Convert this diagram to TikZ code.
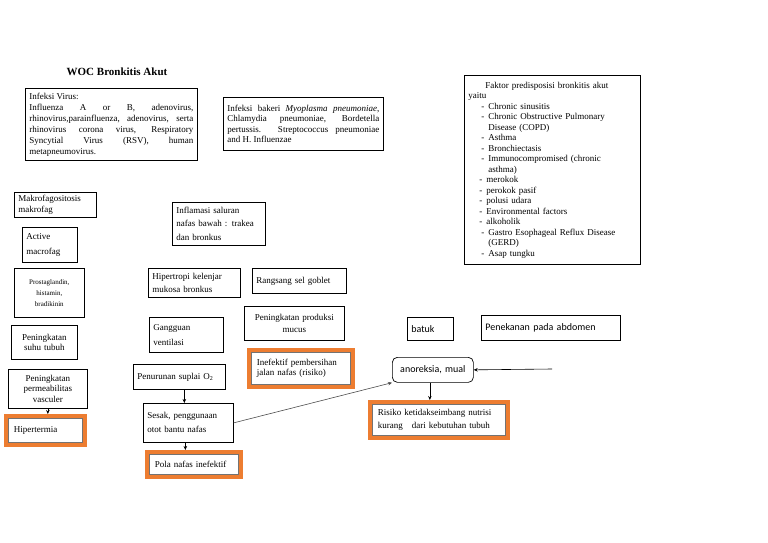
\documentclass[tikz,border=0pt]{standalone}
\usepackage{fontspec}
\setmainfont{Liberation Serif}
\newfontfamily\calibri{Carlito}
\usepackage{xcolor}
\usepackage{tikz}
\usetikzlibrary{arrows.meta, positioning}
\definecolor{wordorange}{RGB}{237,125,49}
\newcommand{\faktoritem}[2][13pt]{\hspace*{#1}-\hspace*{4pt}#2}

\begin{document}
\begin{tikzpicture}[x=1pt, y=-1pt,
        box/.style={rectangle, draw, line width=0.7pt, anchor=north west, inner sep=4pt, align=left, font=\fontsize{9}{10.5}\selectfont},
        diag/.style={box, draw=wordorange, line width=3.8pt, inner xsep=8pt,
            path picture={\draw[black!55, line width=0.5pt] ([shift={(2.7pt,2.7pt)}]path picture bounding box.south west) rectangle ([shift={(-2.7pt,-2.7pt)}]path picture bounding box.north east);}},
        sans/.style={box, font=\calibri\fontsize{10}{12}\selectfont},
        arrow/.style={-{Stealth[length=4pt, width=3.5pt]}, line width=0.6pt}
    ]
        \useasboundingbox (0,0) rectangle (768,543);

        \node[font=\bfseries\fontsize{11}{13}\selectfont] (title) at (117,72) {WOC Bronkitis Akut};

        % causes
        \node[box, align=justify, inner ysep=3pt, font=\fontsize{9}{11}\selectfont, text width=164, minimum height=72] (virus) at (25,88) {Infeksi Virus:\\
            Influenza A or B, adenovirus,\linebreak rhinovirus,parainfluenza, adenovirus, serta\linebreak rhinovirus corona virus, Respiratory\linebreak Syncytial Virus (RSV), human\linebreak metapneumovirus.};
        \node[box, align=justify, text width=152, minimum height=53] (bakteri) at (223,97) {Infeksi bakeri \textit{Myoplasma pneumoniae},\linebreak Chlamydia pneumoniae, Bordetella\linebreak pertussis. Streptococcus pneumoniae\linebreak and H. Influenzae};
        \node[box, text width=168, minimum height=189] (faktor) at (464,75) {\hspace*{17pt}Faktor predisposisi bronkitis akut\\
            yaitu\\
            \faktoritem{Chronic sinusitis}\\
            \faktoritem{Chronic Obstructive Pulmonary}\\
            \hspace*{20pt}Disease (COPD)\\
            \faktoritem{Asthma}\\
            \faktoritem{Bronchiectasis}\\
            \faktoritem{Immunocompromised (chronic}\\
            \hspace*{20pt}asthma)\\
            \faktoritem[11pt]{merokok}\\
            \faktoritem[11pt]{perokok pasif}\\
            \faktoritem[11pt]{polusi udara}\\
            \faktoritem[11pt]{Environmental factors}\\
            \faktoritem[11pt]{alkoholik}\\
            \faktoritem{Gastro Esophageal Reflux Disease}\\
            \hspace*{20pt}(GERD)\\
            \faktoritem{Asap tungku}};

        % left column
        \node[box, inner ysep=2pt, text width=74, minimum height=25] (makro) at (14,192) {Makrofagositosis\\ makrofag};
        \node[box, font=\fontsize{9}{15}\selectfont, text width=47, minimum height=35] (active) at (22,227) {Active\\ macrofag};
        \node[box, align=center, font=\fontsize{7}{11}\selectfont, text width=62, minimum height=49] (prosta) at (14,268) {Prostaglandin,\\ histamin,\\ bradikinin};
        \node[box, align=center, text width=58, minimum height=34] (suhu) at (11,325) {Peningkatan\\ suhu tubuh};
        \node[box, align=center, text width=71, minimum height=39] (perm) at (8,369) {Peningkatan\\ permeabilitas\\ vasculer};
        \node[diag, text width=63.2, minimum height=29.2] (hiper) at (4,414) {Hipertermia};

        % middle column
        \node[box, font=\fontsize{9}{13.5}\selectfont, text width=85, minimum height=43] (inflam) at (172,202) {Inflamasi saluran\\ nafas bawah : trakea\\ dan bronkus};
        \node[box, font=\fontsize{9}{13}\selectfont, text width=84, minimum height=29] (hipertropi) at (148,268) {Hipertropi kelenjar\\ mukosa bronkus};
        \node[box, text width=86, minimum height=25] (rangsang) at (252,268) {Rangsang sel goblet};
        \node[box, font=\fontsize{9}{15}\selectfont, text width=66, minimum height=35] (gangguan) at (149,317) {Gangguan\\ ventilasi};
        \node[box, align=center, font=\fontsize{9}{12}\selectfont, text width=92, minimum height=34] (produksi) at (244,306) {Peningkatan produksi\\ mucus};
        \node[diag, text width=88.2, minimum height=37.2] (inefektif) at (247,348) {Inefektif pembersihan\\ jalan nafas (risiko)};
        \node[box, text width=84, minimum height=25] (penurunan) at (133,364) {Penurunan suplai O\textsubscript{2}};
        \node[box, font=\fontsize{9}{14}\selectfont, text width=82, minimum height=39] (sesak) at (143,403) {Sesak, penggunaan\\ otot bantu nafas};
        \node[diag, text width=78.2, minimum height=25.2] (pola) at (145,450) {Pola nafas inefektif};

        % right part
        \node[sans, text width=38, minimum height=23] (batuk) at (407,317) {batuk};
        \node[sans, text width=131, minimum height=25] (penekanan) at (481,315) {Penekanan pada abdomen};
        \node[sans, rounded corners=5pt, align=center, text width=73, minimum height=25] (anoreksia) at (392,357) {anoreksia, mual};
        \node[diag, font=\fontsize{9}{13}\selectfont, text width=122.2, minimum height=36.2] (risiko) at (368,400) {Risiko ketidakseimbang nutrisi\\ kurang \ \ dari kebutuhan tubuh};
        \coordinate (tekanan) at (552,369);

        \draw[arrow] (perm.south) -- (perm.south |- hiper.north);
        \draw[arrow] ([xshift=5pt]penurunan.south) -- ([xshift=5pt]penurunan.south |- sesak.north);
        \draw[arrow] ([xshift=-3pt]sesak.south) -- ([xshift=-3pt]sesak.south |- pola.north);
        \draw[arrow, black!70] (sesak.east) -- (anoreksia.south west);
        \draw[arrow] (tekanan) -- (anoreksia.east);
        \draw[arrow] ([xshift=-3pt]anoreksia.south) -- ([xshift=-3pt]anoreksia.south |- risiko.north);
    \end{tikzpicture}
\end{document}
